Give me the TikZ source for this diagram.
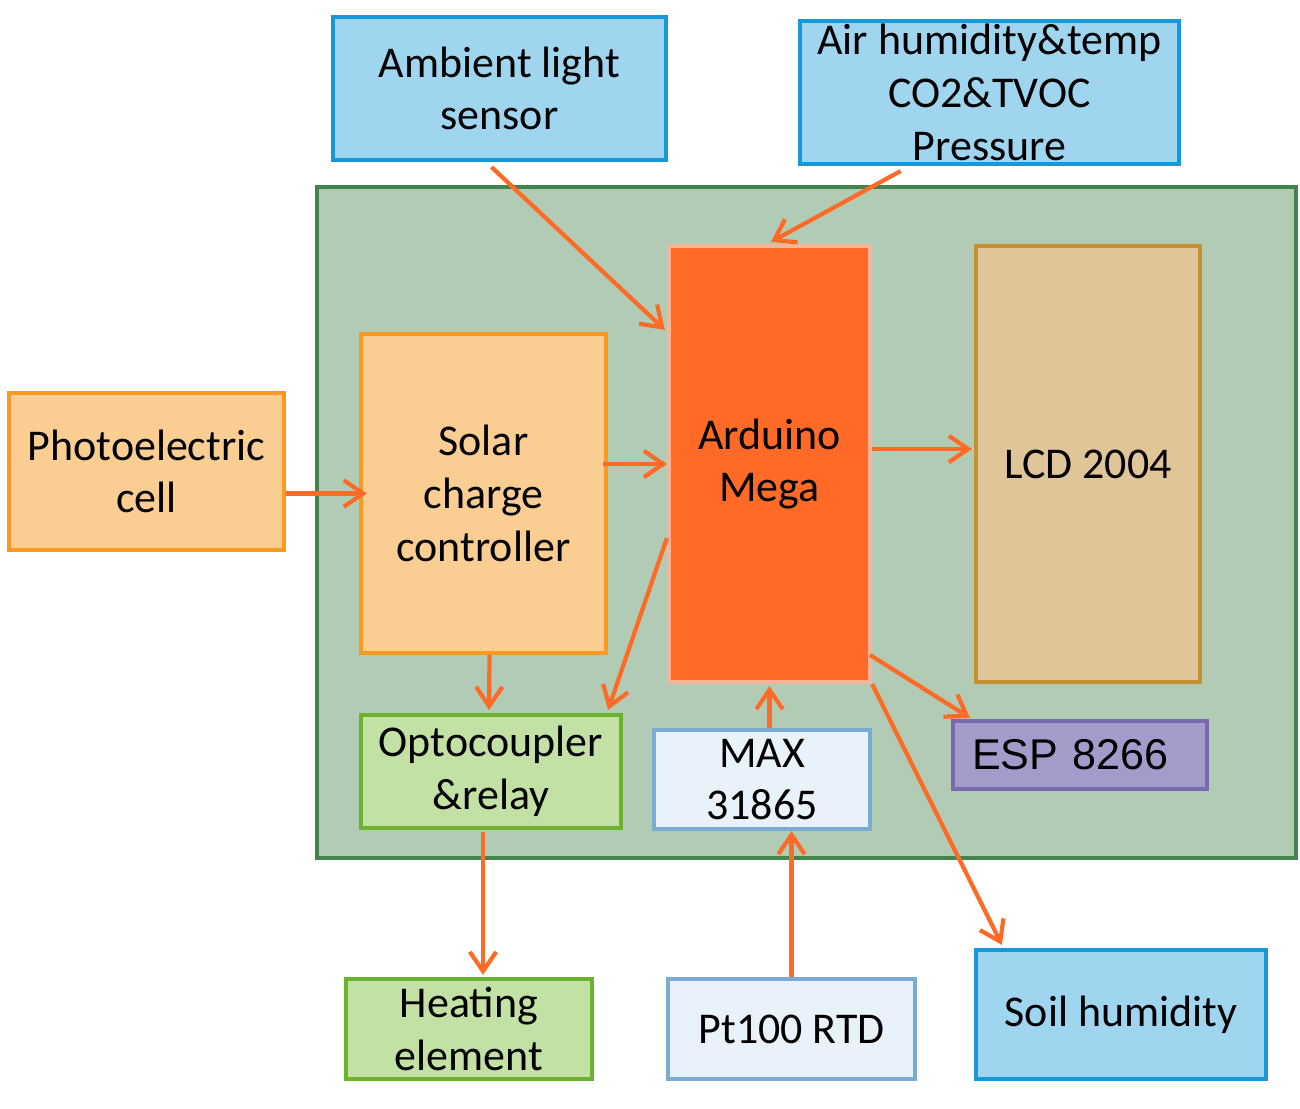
\documentclass[tikz,border=0pt]{standalone}
\usepackage{fontspec}
\setmainfont{Carlito}
\newfontfamily\arialfont{Liberation Sans}
\usetikzlibrary{arrows.meta,calc,positioning}
\definecolor{Wire}{HTML}{FF6B27}
\definecolor{Sky}{HTML}{9FD5EF}
\definecolor{SkyEdge}{HTML}{1798D8}
\definecolor{Board}{HTML}{B2CBB4}
\definecolor{BoardEdge}{HTML}{43834C}
\definecolor{Sand}{HTML}{FACD92}
\definecolor{SandEdge}{HTML}{F9991F}
\definecolor{Mega}{HTML}{FF6A26}
\definecolor{MegaEdge}{HTML}{F9B497}
\definecolor{Tan}{HTML}{DFC597}
\definecolor{TanEdge}{HTML}{C6902F}
\definecolor{Leaf}{HTML}{C3E0A5}
\definecolor{LeafEdge}{HTML}{6CB32D}
\definecolor{Ice}{HTML}{E9F1FA}
\definecolor{IceEdge}{HTML}{7AABD2}
\definecolor{Lilac}{HTML}{A39BC9}
\definecolor{LilacEdge}{HTML}{7A69AD}

\begin{document}
\begin{tikzpicture}[x=.02cm,y=-.02cm,
    blk/.style={draw,line width=2.4pt,inner sep=0pt,align=center,
      font=\fontsize{25}{30}\selectfont},
    arr/.style={draw=Wire,line width=2.4pt,-{Straight Barb[length=11pt,width=15pt]}}]
  \useasboundingbox (0,0) rectangle (1300,1108);
  % board
  \node[blk,fill=Board,draw=BoardEdge,minimum width=19.58cm,minimum height=13.42cm] (board) at (806.5,522.5) {};
  % sensors and parts
  \node[blk,fill=Sky,draw=SkyEdge,minimum width=6.66cm,minimum height=2.86cm] (amb) at (499.5,88.5) {Ambient light\\sensor};
  \node[blk,fill=Sky,draw=SkyEdge,minimum width=7.58cm,minimum height=2.86cm] (air) at (989.5,92.5) {Air humidity\&temp\\CO2\&TVOC\\Pressure};
  \node[blk,fill=Sand,draw=SandEdge,minimum width=5.5cm,minimum height=3.14cm] (photo) at (146.5,471.5) {Photoelectric\\cell};
  \node[blk,fill=Sand,draw=SandEdge,minimum width=4.9cm,minimum height=6.38cm] (solar) at (483.5,493.5) {Solar\\charge\\controller};
  \node[blk,fill=Mega,draw=MegaEdge,minimum width=4.02cm,minimum height=8.72cm] (ard) at (769.5,464) {Arduino\\Mega};
  \node[blk,fill=Tan,draw=TanEdge,minimum width=4.48cm,minimum height=8.72cm] (lcd) at (1088,464) {LCD 2004};
  \node[blk,fill=Leaf,draw=LeafEdge,minimum width=5.2cm,minimum height=2.26cm] (opto) at (491,771.5) {Optocoupler\\\&relay};
  \node[blk,fill=Ice,draw=IceEdge,minimum width=4.32cm,minimum height=1.98cm] (max) at (762,779.5) {MAX\\31865};
  \node[blk,fill=Lilac,draw=LilacEdge,minimum width=5.08cm,minimum height=1.36cm,
    text width=4.32cm,inner xsep=.38cm,align=left,font=\arialfont\fontsize{24.5}{29}\selectfont] (esp) at (1080,755) {ESP 8266};
  \node[blk,fill=Leaf,draw=LeafEdge,minimum width=4.92cm,minimum height=2cm] (heat) at (469,1029) {Heating\\element};
  \node[blk,fill=Ice,draw=IceEdge,minimum width=4.94cm,minimum height=2cm] (pt) at (791.5,1029) {Pt100 RTD};
  \node[blk,fill=Sky,draw=SkyEdge,minimum width=5.8cm,minimum height=2.58cm] (soil) at (1121,1014.5) {Soil humidity};
  % links
  \draw[arr] ($(amb.south)+(-8,5)$) -- ($(ard.north west)+(-2,86)$);
  \draw[arr] ($(air.south)+(-89,5)$) -- ($(ard.north)+(1.5,-2)$);
  \draw[arr] (photo.east |- solar.west) -- ($(solar.west)+(8,0)$);
  \draw[arr] ($(solar.east |- ard.west)+(-5,0)$) -- (ard.west);
  \draw[arr] ($(ard.east)+(0,-15)$) -- ($(lcd.west)+(-2,-15)$);
  \draw[arr] ($(ard.west)+(0,74)$) -- ($(opto.north east)+(-15,-3)$);
  \draw[arr] ($(solar.south)+(6,0)$) -- ($(opto.north)+(-2,-3)$);
  \draw[arr] ($(max.north)+(7.5,0)$) -- ($(ard.south)+(0,2)$);
  \draw[arr] ($(ard.east)+(-2,191)$) -- ($(esp.north west)+(19,-1)$);
  \draw[arr] (ard.south east) -- ($(soil.north west)+(28,-3)$);
  \draw[arr] ($(opto.south)+(-8,2)$) -- ($(heat.north)+(14,-2)$);
  \draw[arr] (pt.north) -- (pt.north |- max.south);
\end{tikzpicture}
\end{document}
